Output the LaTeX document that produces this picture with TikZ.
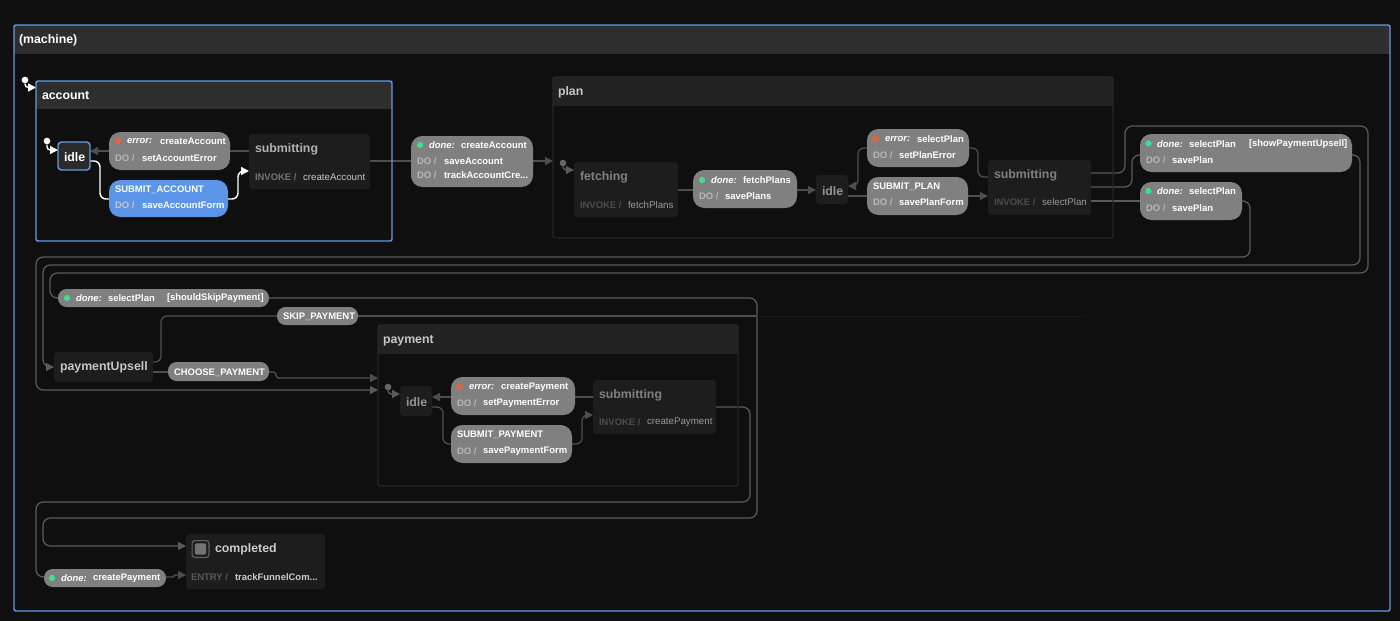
\documentclass[tikz,border=0pt]{standalone}
\usepackage{fontspec}
\setmainfont{Liberation Sans}
\usetikzlibrary{calc,arrows.meta}
\pgfdeclarelayer{base}
\pgfdeclarelayer{lines}
\pgfsetlayers{base,lines,main}
\definecolor{bgc}{HTML}{0F0F0F}
\definecolor{blu}{HTML}{6A99E0}
\definecolor{hdA}{HTML}{2E2E2E}
\definecolor{hdB}{HTML}{222222}
\definecolor{stA}{HTML}{2B2B2B}
\definecolor{stB}{HTML}{1D1D1D}
\definecolor{bdB}{HTML}{272727}
\definecolor{pil}{HTML}{808080}
\definecolor{act}{HTML}{5C95E8}
\definecolor{lin}{HTML}{4E4E4E}
\definecolor{lin2}{HTML}{5A5A5A}
\definecolor{grn}{HTML}{3EE08F}
\definecolor{red}{HTML}{E8623F}
\tikzset{
  box/.style={anchor=north west,inner sep=0pt,outer sep=0pt,rounded corners=2.5pt},
  pillbox/.style={box,fill=pil,rounded corners=8.5pt},
  activebox/.style={box,fill=act,rounded corners=8.5pt},
  thinpill/.style={box,fill=pil,rounded corners=6.5pt},
  compound/.style={box,draw=bdB,line width=0.9pt,rounded corners=1.5pt},
  live/.style={box,draw=blu,line width=1.1pt,rounded corners=1.5pt},
  simple/.style={box,fill=stB},
  txt/.style={anchor=west,inner sep=0pt,outer sep=0pt,yshift=-0.3pt,font=\fontsize{7.1}{8}\selectfont\bfseries,text=white},
  lighttxt/.style={txt,font=\fontsize{7.3}{8}\selectfont},
  bigtxt/.style={txt,yshift=-0.3pt,font=\fontsize{9.25}{11}\selectfont\bfseries},
  dotype/.style={txt,text=#1},
  evtxt/.style={txt,font=\fontsize{7.1}{8}\selectfont\bfseries\itshape},
  evdot/.style={circle,inner sep=0pt,minimum size=4.6pt,fill=#1},
  conn/.style={draw=lin,line width=0.95pt,rounded corners=4.5pt},
  wrap/.style={draw=lin2,line width=0.95pt,rounded corners=5.5pt},
  hot/.style={draw=white,line width=1.05pt,rounded corners=4.5pt},
  tip/.style={-{Triangle[length=6pt,width=6pt]}},
  inidot/.style={circle,inner sep=0pt,minimum size=5pt,fill=#1},
}
\newcommand{\bx}[6]{\node[#1,minimum width=(#4-#2)*0.75pt,minimum height=(#5-#3)*0.75pt] (#6) at (#2,#3) {};}
\newcommand{\tx}[5]{\node[#1] (#2) at (#3,#4) {#5};}
\begin{document}
\begin{tikzpicture}[x=0.75pt,y=-0.75pt]
\useasboundingbox (0,0) rectangle (1400,621);
\begin{pgfonlayer}{base}
\fill[bgc] (0,0) rectangle (1400,621);
\fill[hdA] (14,25) rectangle (1390,54);
\fill[hdA] (36,81) rectangle (392,109);
\fill[hdB] (553,77) rectangle (1113,106);
\fill[hdB] (378,325) rectangle (738,354);
\end{pgfonlayer}

% compound states
\bx{live}{14}{25}{1390}{611}{machine}
\tx{bigtxt}{machinet}{19}{40}{(machine)}
\bx{live}{36}{81}{392}{241}{account}
\tx{bigtxt}{accountt}{42}{95}{account}
\bx{compound}{553}{77}{1113}{238}{plan}
\tx{bigtxt,text=black!22}{plant}{558}{92}{plan}
\bx{compound}{378}{325}{738}{486}{payment}
\tx{bigtxt,text=black!22}{paymentt}{383}{340}{payment}

% simple states
\bx{box,fill=stA,draw=blu,line width=1.1pt}{58}{142}{90}{170}{idleA}
\bx{simple}{249}{134}{370}{189}{subA}
\bx{simple}{574}{162}{678}{217}{fetch}
\bx{simple}{816}{175}{848}{204}{idleB}
\bx{simple}{988}{160}{1091}{215}{subB}
\bx{simple}{54}{352}{153}{382}{upsell}
\bx{simple}{400}{386}{432}{416}{idleC}
\bx{simple}{593}{380}{716}{434}{subC}
\bx{simple}{186}{534}{325}{589}{done}

% transition pills
\bx{pillbox}{109}{132}{230}{170}{pErrA}
\bx{activebox}{109}{180}{228}{217}{pSubA}
\bx{pillbox}{411}{136}{533}{187}{pDoneA}
\bx{pillbox}{693}{170}{797}{208}{pDoneF}
\bx{pillbox}{867}{129}{969}{167}{pErrB}
\bx{pillbox}{867}{177}{968}{215}{pSubB}
\bx{pillbox}{1140}{134}{1352}{172}{pShow}
\bx{pillbox}{1140}{182}{1242}{220}{pSave}
\bx{thinpill}{58}{289}{269}{307}{pSkipD}
\bx{thinpill}{277}{307}{358}{325}{pSkipE}
\bx{thinpill}{168}{362}{269}{381}{pChoose}
\bx{pillbox}{451}{377}{575}{415}{pErrC}
\bx{pillbox}{451}{425}{572}{463}{pSubC}
\bx{thinpill}{44}{569}{166}{587}{pDoneC}

% initial markers
\node[inidot=white] (iniM) at (25,80) {};
\node[inidot=white] (iniA) at (47,141) {};
\node[inidot=black!60] (iniP) at (563,163) {};
\node[inidot=black!60] (iniC) at (388,387) {};

\begin{pgfonlayer}{lines}
\draw[white,line width=1.05pt,rounded corners=2.5pt,tip] (iniM) |- (account.west |- 0,87.5);
\draw[white,line width=1.05pt,rounded corners=2.5pt,tip] (iniA) |- (idleA.west |- 0,150);
\draw[lin2,line width=1.05pt,rounded corners=2.5pt,tip] (iniP) |- (fetch.west |- 0,170);
\draw[lin2,line width=1.05pt,rounded corners=2.5pt,tip] (iniC) |- (idleC.west |- 0,394);
% account
\draw[conn] (subA.west |- 0,151) -- (pErrA.east |- 0,151);
\draw[conn,tip] (pErrA.west |- 0,151) -- (idleA.east |- 0,151);
\draw[hot] (idleA.east |- 0,161) -- (100,161) -- (100,199) -- (pSubA.west |- 0,199);
\draw[hot,tip] (pSubA.east |- 0,199) -- (238,199) -- (238,171) -- (subA.west |- 0,171);
\draw[conn] (subA.east |- 0,161) -- (pDoneA.west |- 0,161);
\draw[conn,tip] (pDoneA.east |- 0,161) -- (plan.west |- 0,161);
% plan
\draw[conn] (fetch.east |- 0,190) -- (pDoneF.west |- 0,190);
\draw[conn,tip] (pDoneF.east |- 0,190) -- (idleB.west |- 0,190);
\draw[conn] (subB.west |- 0,177) -- (978,177) -- (978,148) -- (pErrB.east |- 0,148);
\draw[conn,tip] (pErrB.west |- 0,148) -- (858,148) -- (858,186) -- (idleB.east |- 0,186);
\draw[conn] (idleB.east |- 0,196) -- (pSubB.west |- 0,196);
\draw[conn,tip] (pSubB.east |- 0,196) -- (subB.west |- 0,196);
% leaving plan
\draw[wrap] (subB.east |- 0,173) -- (1125,173) -- (1125,126) -- (1368,126) -- (1368,273) -- (50,273) -- (50,298) -- (pSkipD.west |- 0,298);
\draw[wrap] (subB.east |- 0,187) -- (1132,187) -- (1132,155) -- (pShow.west |- 0,155);
\draw[wrap,tip] (pShow.east |- 0,155) -- (1360,155) -- (1360,265) -- (43,265) -- (43,367) -- (upsell.west |- 0,367);
\draw[wrap] (subB.east |- 0,201) -- (pSave.west |- 0,201);
\draw[wrap,tip] (pSave.east |- 0,201) -- (1250,201) -- (1250,257) -- (36,257) -- (36,390) -- (payment.west |- 0,390);
\draw[wrap,tip] (pSkipD.east |- 0,298) -- (757,298) -- (757,518) -- (43,518) -- (43,546) -- (done.west |- 0,546);
% upsell
\coordinate (skipEnd) at (757,316);
\coordinate (skipFade) at (1085,316);
\draw[conn] (upsell.east |- 0,362) -- (161,362) -- (161,316) -- (pSkipE.west |- 0,316);
\draw[conn] (pSkipE.east |- 0,316) -- (skipEnd);
\draw[draw=black!90,line width=0.6pt] (skipEnd) -- (skipFade);
\draw[conn] (upsell.east |- 0,372) -- (pChoose.west |- 0,372);
\draw[conn,rounded corners=2.2pt,tip] (pChoose.east |- 0,372) -- (276,372) -- (276,378) -- (payment.west |- 0,378);
% payment
\draw[conn] (subC.west |- 0,397) -- (pErrC.east |- 0,397);
\draw[conn,tip] (pErrC.west |- 0,397) -- (idleC.east |- 0,397);
\draw[conn] (idleC.east |- 0,407) -- (443,407) -- (443,444) -- (pSubC.west |- 0,444);
\draw[conn,tip] (pSubC.east |- 0,444) -- (582,444) -- (582,415) -- (subC.west |- 0,415);
\draw[wrap] (subC.east |- 0,407) -- (750,407) -- (750,502) -- (36,502) -- (36,577) -- (pDoneC.west |- 0,577);
\draw[conn,rounded corners=1pt,tip] (pDoneC.east |- 0,577) -- (174,577) -- (174,575) -- (done.west |- 0,575);
\end{pgfonlayer}

% state texts
\tx{bigtxt}{idleAt}{64}{156}{idle}
\tx{bigtxt,text=black!30}{subAt}{255}{149}{submitting}
\tx{dotype=black!55}{subAa}{255}{177}{INVOKE /}
\tx{lighttxt,text=black!22}{subAb}{303}{177}{createAccount}

\tx{bigtxt,text=black!50}{fetcht}{580}{177}{fetching}
\tx{dotype=black!70}{fetcha}{580}{205}{INVOKE /}
\tx{lighttxt,text=black!40}{fetchb}{628}{205}{fetchPlans}
\tx{bigtxt,text=black!42}{idleBt}{822}{190}{idle}
\tx{bigtxt,text=black!50}{subBt}{994}{175}{submitting}
\tx{dotype=black!70}{subBa}{994}{202}{INVOKE /}
\tx{lighttxt,text=black!40}{subBb}{1042}{202}{selectPlan}
\tx{bigtxt,text=black!22}{upsellt}{60}{367}{paymentUpsell}
\tx{bigtxt,text=black!42}{idleCt}{406}{401}{idle}
\tx{bigtxt,text=black!50}{subCt}{599}{395}{submitting}
\tx{dotype=black!70}{subCa}{599}{422}{INVOKE /}
\tx{lighttxt,text=black!40}{subCb}{647}{422}{createPayment}
\tx{bigtxt,text=black!20}{donet}{215}{549}{completed}
\tx{dotype=black!65}{donea}{191}{577}{ENTRY /}
\tx{txt,text=black!20}{doneb}{235}{577}{trackFunnelCom...}
\node[box,anchor=center,minimum size=12.6pt,draw=black!62,line width=0.9pt,rounded corners=2pt] (finalout) at (200.5,549) {};
\node[box,anchor=center,minimum size=8.4pt,fill=black!55,rounded corners=1pt] (finalin) at (200.5,549) {};

% pill texts
\node[evdot=red] (d1) at (118,141) {};
\tx{evtxt}{t1a}{127}{141}{error:} \tx{txt}{t1b}{160}{141}{createAccount}
\tx{dotype=black!28}{t1c}{115}{158}{DO /} \tx{txt}{t1d}{142}{158}{setAccountError}

\tx{txt}{t2a}{115}{189}{SUBMIT\_ACCOUNT}
\tx{dotype=black!22}{t2b}{115}{205}{DO /} \tx{txt}{t2c}{142}{205}{saveAccountForm}

\node[evdot=grn] (d3) at (420,145) {};
\tx{evtxt}{t3a}{429}{145}{done:} \tx{txt}{t3b}{461}{145}{createAccount}
\tx{dotype=black!28}{t3c}{417}{161}{DO /} \tx{txt}{t3d}{444}{161}{saveAccount}
\tx{dotype=black!28}{t3e}{417}{175}{DO /} \tx{txt}{t3f}{444}{175}{trackAccountCre...}

\node[evdot=grn] (d4) at (702,180) {};
\tx{evtxt}{t4a}{711}{180}{done:} \tx{txt}{t4b}{743}{180}{fetchPlans}
\tx{dotype=black!28}{t4c}{699}{196}{DO /} \tx{txt}{t4d}{725}{196}{savePlans}

\node[evdot=red] (d5) at (875.5,139) {};
\tx{evtxt}{t5a}{885}{139}{error:} \tx{txt}{t5b}{917}{139}{selectPlan}
\tx{dotype=black!28}{t5c}{873}{155}{DO /} \tx{txt}{t5d}{899}{155}{setPlanError}

\tx{txt}{t6a}{873}{186}{SUBMIT\_PLAN}
\tx{dotype=black!28}{t6b}{873}{202}{DO /} \tx{txt}{t6c}{899}{202}{savePlanForm}

\node[evdot=grn] (d7) at (1148.5,143.5) {};
\tx{evtxt}{t7a}{1157}{143.5}{done:} \tx{txt}{t7b}{1189}{143.5}{selectPlan} \tx{txt}{t7c}{1249}{143.5}{[showPaymentUpsell]}
\tx{dotype=black!28}{t7d}{1146}{160}{DO /} \tx{txt}{t7e}{1172}{160}{savePlan}

\node[evdot=grn] (d8) at (1148.5,191) {};
\tx{evtxt}{t8a}{1157}{191}{done:} \tx{txt}{t8b}{1189}{191}{selectPlan}
\tx{dotype=black!28}{t8c}{1146}{208}{DO /} \tx{txt}{t8d}{1172}{208}{savePlan}

\node[evdot=grn] (d9) at (67,298) {};
\tx{evtxt}{t9a}{76}{298}{done:} \tx{txt}{t9b}{108}{298}{selectPlan} \tx{txt}{t9c}{167}{298}{[shouldSkipPayment]}

\tx{txt}{t10}{283}{316.5}{SKIP\_PAYMENT}
\tx{txt}{t11}{174}{372}{CHOOSE\_PAYMENT}

\node[evdot=red] (d12) at (459.5,387) {};
\tx{evtxt}{t12a}{469}{387}{error:} \tx{txt}{t12b}{501}{387}{createPayment}
\tx{dotype=black!28}{t12c}{457}{403}{DO /} \tx{txt}{t12d}{483}{403}{setPaymentError}

\tx{txt}{t13a}{457}{434}{SUBMIT\_PAYMENT}
\tx{dotype=black!28}{t13b}{457}{451}{DO /} \tx{txt}{t13c}{483}{451}{savePaymentForm}

\node[evdot=grn] (d14) at (52,578) {};
\tx{evtxt}{t14a}{61}{578}{done:} \tx{txt}{t14b}{93}{578}{createPayment}
\end{tikzpicture}
\end{document}
